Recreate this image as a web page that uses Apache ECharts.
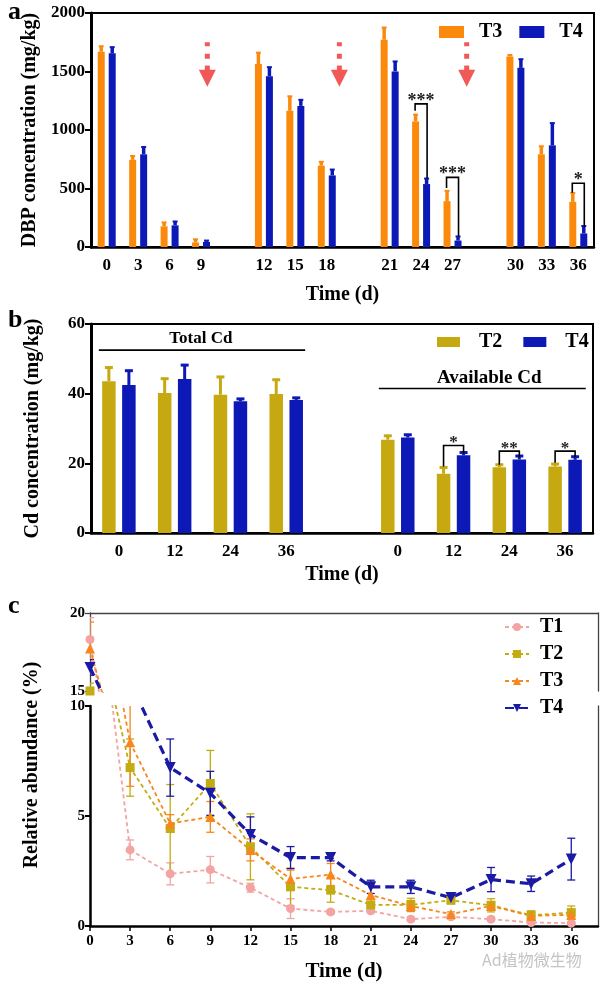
<!DOCTYPE html>
<html>
<head>
<meta charset="utf-8">
<title>DBP / Cd / relative abundance</title>
<script src="https://cdn.jsdelivr.net/npm/echarts@6/dist/echarts.min.js"></script>
<style>
body{margin:0;background:#fff;}
#wrap{position:relative;width:600px;height:987px;}
#div_dbp{position:absolute;left:0;top:0;width:600px;height:310px;}
#div_cd{position:absolute;left:0;top:310px;width:600px;height:280px;}
#div_abund{position:absolute;left:0;top:590px;width:600px;height:397px;}
</style>
</head>
<body>
<div id="wrap">
	<div id="div_dbp"></div>
	<div id="div_cd"></div>
	<div id="div_abund"></div>
</div>
<script>
var FONT = '"Liberation Serif", "Times New Roman", serif';

// ---- a: DBP concentration ----
var dbpDays = ['0','3','6','9','','12','15','18','','21','24','27','','30','33','36'];
var dbpT3   = [1669, 745, 177, 39, 1564, 1164, 695, 1771, 1073, 392, 1628, 792, 386];
var dbpT3Sd = [47, 33, 33, 27, 97, 124, 33, 105, 58, 88, 13, 69, 75];
var dbpT4   = [1655, 792, 185, 44, 1459, 1206, 612, 1501, 538, 55, 1531, 869, 116];
var dbpT4Sd = [53, 63, 33, 11, 78, 52, 50, 85, 47, 35, 74, 190, 63];
// day, left leg end, bracket top, right leg end, stars
var dbpSig = [['24', 1165, 1223, 587, '***'], ['27', 504, 595, 91, '***'], ['36', 463, 545, 174, '*']];
var dbpArrows = [3.2, 7.4, 11.45];   // position on the category axis

// ---- b: Cd concentration ----
var cdDays   = ['0','12','24','36','','0','12','24','36'];
var cdT2     = [43.6, 40.2, 39.7, 39.9, 26.8, 17.0, 18.9, 19.1];
var cdT2Sd   = [3.9, 4.1, 5.1, 4.1, 1.1, 1.8, 0.7, 0.7];
var cdT4     = [42.5, 44.2, 37.8, 38.2, 27.4, 22.3, 21.1, 21.0];
var cdT4Sd   = [4.1, 4.0, 0.7, 0.6, 0.8, 0.8, 1.0, 0.9];
var cdSig    = [[6, 19.1, 25.1, 22.9, '*'], [7, 19.6, 23.5, 21.9, '**'], [8, 20.2, 23.5, 21.8, '*']];
// label, from, to, line value, label position, label value
var cdGroups = [['Total Cd', -0.36, 3.34, 52.5, 1.47, 55.9], ['Available Cd', 4.66, 8.37, 41.5, 6.64, 44.5]];

// ---- c: relative abundance ----
var abDays = [0, 3, 6, 9, 12, 15, 18, 21, 24, 27, 30, 33, 36];
var abT1   = [18.3, 3.46, 2.37, 2.56, 1.74, 0.79, 0.64, 0.69, 0.31, 0.42, 0.31, 0.16, 0.13];
var abT1Sd = [1.4, 0.45, 0.5, 0.6, 0.2, 0.45, 0.1, 0.1, 0.1, 0.1, 0.1, 0.05, 0.05];
var abT2   = [15.0, 7.2, 4.43, 6.48, 3.6, 1.78, 1.63, 0.96, 0.96, 1.17, 0.94, 0.49, 0.61];
var abT2Sd = [0.5, 1.3, 2.0, 1.5, 1.5, 0.85, 0.55, 0.15, 0.3, 0.15, 0.3, 0.2, 0.3];
var abT3   = [17.72, 8.35, 4.66, 4.96, 3.46, 2.14, 2.34, 1.41, 0.91, 0.54, 0.91, 0.46, 0.51];
var abT3Sd = [1.7, 2.0, 0.4, 0.7, 0.5, 0.4, 0.5, 0.5, 0.25, 0.1, 0.2, 0.15, 0.2];
var abT4   = [16.51, 11.1, 7.2, 6.03, 4.16, 3.11, 3.11, 1.78, 1.78, 1.29, 2.11, 1.92, 3.04];
var abT4Sd = [0.5, 0.5, 1.3, 1.0, 0.8, 0.5, 0.15, 0.3, 0.3, 0.2, 0.55, 0.35, 0.95];

var ORANGE = '#fb8a0c', BLUE = '#0c19b6', OLIVE = '#c6a911';

function withGaps(labels, values){
	var out = [], k = 0;
	for (var i = 0; i < labels.length; i++) {
		out.push(labels[i] === '' ? '-' : values[k++]);
	}
	return out;
}
function errData(labels, values, sds){
	var out = [], k = 0;
	for (var i = 0; i < labels.length; i++) {
		if (labels[i] === '') continue;
		out.push([i, values[k], sds[k]]);
		k++;
	}
	return out;
}
function plain(v){ return String(v); }

// upper error bar drawn over a bar, offset from the category centre
function barErr(offset, color, width, cap, capWidth){
	return function(params, api){
		var base = api.coord([api.value(0), api.value(1)]);
		var top = api.coord([api.value(0), api.value(1) + api.value(2)]);
		var x = base[0] + offset;
		return {type:'group', children:[
			{type:'line', shape:{x1:x, y1:base[1], x2:x, y2:top[1]}, style:{stroke:color, lineWidth:width}},
			{type:'line', shape:{x1:x-cap, y1:top[1], x2:x+cap, y2:top[1]}, style:{stroke:color, lineWidth:capWidth}}
		]};
	};
}
function sigBracket(list, off, fontSize){
	return function(params, api){
		var i = api.value(0);
		var pl = api.coord([i, api.value(1)]);
		var pt = api.coord([i, api.value(2)]);
		var pr = api.coord([i, api.value(3)]);
		var xl = pl[0] - off, xr = pl[0] + off;
		return {type:'group', children:[
			{type:'polyline', shape:{points:[[xl, pl[1]], [xl, pt[1]], [xr, pt[1]], [xr, pr[1]]]},
				style:{stroke:'#000', lineWidth:1.6, fill:null}},
			{type:'text', x:(xl + xr) / 2, y:pt[1] - 3,
				style:{text:list[params.dataIndex][4], font:'bold ' + fontSize + 'px ' + FONT,
					fill:'#222', textAlign:'center', textVerticalAlign:'middle'}}
		]};
	};
}

function drawDbp(){
	var sig = dbpSig.map(function(s){ return [dbpDays.indexOf(s[0]), s[1], s[2], s[3]]; });
	var option = {
		animation:false,
		title:{text:'a', left:3, top:-6, textStyle:{fontFamily:FONT, fontSize:26, fontWeight:'bold', color:'#000'}},
		legend:{
			data:['T3','T4'], left:434, top:17, width:200, itemWidth:25, itemHeight:12, itemGap:17,
			icon:'rect',
			textStyle:{fontFamily:FONT, fontSize:20, fontWeight:'bold', color:'#000', padding:[0,0,0,10]}
		},
		grid:{left:91, top:13, width:503, height:241, show:true, borderColor:'#000', borderWidth:2},
		xAxis:{
			type:'category', data:dbpDays,
			axisLine:{lineStyle:{color:'#000', width:2.5}},
			axisTick:{alignWithLabel:true, interval:0, length:6, lineStyle:{width:2, color:'#000'}},
			axisLabel:{interval:0, margin:10, fontFamily:FONT, fontSize:17, fontWeight:'bold', color:'#000'},
			name:'Time (d)', nameLocation:'middle', nameGap:38,
			nameTextStyle:{fontFamily:FONT, fontSize:20, fontWeight:'bold', color:'#000'}
		},
		yAxis:{
			type:'value', min:0, max:2000, interval:500,
			axisLine:{show:true, lineStyle:{color:'#000', width:3}},
			axisTick:{show:true, length:6, lineStyle:{width:2, color:'#000'}},
			axisLabel:{margin:6, formatter:plain, fontFamily:FONT, fontSize:17, fontWeight:'bold', color:'#000'},
			splitLine:{show:false},
			name:'DBP concentration (mg/kg)', nameLocation:'middle', nameGap:48,
			nameTextStyle:{fontFamily:FONT, fontSize:20, fontWeight:'bold', color:'#000'}
		},
		series:[
			{name:'T3', type:'bar', data:withGaps(dbpDays, dbpT3), barWidth:7, barGap:'57%', itemStyle:{color:ORANGE}},
			{name:'T4', type:'bar', data:withGaps(dbpDays, dbpT4), barWidth:7, barGap:'57%', itemStyle:{color:BLUE}},
			{type:'custom', renderItem:barErr(-5.5, ORANGE, 3.5, 2.5, 2), data:errData(dbpDays, dbpT3, dbpT3Sd), z:3},
			{type:'custom', renderItem:barErr(5.5, BLUE, 3.5, 2.5, 2), data:errData(dbpDays, dbpT4, dbpT4Sd), z:3},
			{type:'custom', renderItem:sigBracket(dbpSig, 6, 18), data:sig, z:4},
			{type:'custom', z:4,
				data:dbpArrows.map(function(p){ return [p, 1750]; }),
				renderItem:function(params, api){
					var band = api.size([1, 0])[0];
					var p0 = api.coord([0, api.value(1)]);
					var x = p0[0] + api.value(0) * band, y = p0[1];
					var c = '#f15959';
					return {type:'group', children:[
						{type:'rect', shape:{x:x-2.5, y:y, width:5, height:4}, style:{fill:c}},
						{type:'rect', shape:{x:x-2.5, y:y+11.5, width:5, height:5}, style:{fill:c}},
						{type:'rect', shape:{x:x-2.5, y:y+23.3, width:5, height:4.5}, style:{fill:c}},
						{type:'polygon', shape:{points:[[x-8.5, y+27.5], [x+8.5, y+27.5], [x, y+44.5]]}, style:{fill:c}}
					]};
				}
			}
		]
	};
	var myChart = echarts.init(document.getElementById('div_dbp'));
	myChart.setOption(option);
}

function drawCd(){
	var option = {
		animation:false,
		title:{text:'b', left:3, top:-8, textStyle:{fontFamily:FONT, fontSize:26, fontWeight:'bold', color:'#000'}},
		legend:{
			data:['T2','T4'], left:432, top:17, width:200, itemWidth:23, itemHeight:10, itemGap:21,
			icon:'rect',
			textStyle:{fontFamily:FONT, fontSize:20, fontWeight:'bold', color:'#000', padding:[0,0,0,14]}
		},
		grid:{left:91, top:14, width:502, height:217, show:true, borderColor:'#000', borderWidth:2},
		xAxis:{
			type:'category', data:cdDays,
			axisLine:{lineStyle:{color:'#000', width:2.5}},
			axisTick:{alignWithLabel:true, interval:0, length:6, lineStyle:{width:2, color:'#000'}},
			axisLabel:{interval:0, margin:10, fontFamily:FONT, fontSize:17, fontWeight:'bold', color:'#000'},
			name:'Time (d)', nameLocation:'middle', nameGap:32,
			nameTextStyle:{fontFamily:FONT, fontSize:20, fontWeight:'bold', color:'#000'}
		},
		yAxis:{
			type:'value', min:0, max:60, interval:20,
			axisLine:{show:true, lineStyle:{color:'#000', width:3}},
			axisTick:{show:true, length:6, lineStyle:{width:2, color:'#000'}},
			axisLabel:{margin:6, formatter:plain, fontFamily:FONT, fontSize:17, fontWeight:'bold', color:'#000'},
			splitLine:{show:false},
			name:'Cd concentration (mg/kg)', nameLocation:'middle', nameGap:48,
			nameTextStyle:{fontFamily:FONT, fontSize:20, fontWeight:'bold', color:'#000'}
		},
		series:[
			{name:'T2', type:'bar', data:withGaps(cdDays, cdT2), barWidth:13.5, barGap:'48%', itemStyle:{color:OLIVE}},
			{name:'T4', type:'bar', data:withGaps(cdDays, cdT4), barWidth:13.5, barGap:'48%', itemStyle:{color:BLUE}},
			{type:'custom', renderItem:barErr(-10, OLIVE, 3, 4, 3), data:errData(cdDays, cdT2, cdT2Sd), z:3},
			{type:'custom', renderItem:barErr(10, BLUE, 3, 4, 3), data:errData(cdDays, cdT4, cdT4Sd), z:3},
			{type:'custom', renderItem:sigBracket(cdSig, 10, 17), data:cdSig.map(function(s){ return s.slice(0, 4); }), z:4},
			{type:'custom', z:4,
				data:cdGroups.map(function(g){ return [g[1], g[2], g[3], g[4], g[5]]; }),
				renderItem:function(params, api){
					var band = api.size([1, 0])[0];
					var pl = api.coord([0, api.value(2)]);
					var pt = api.coord([0, api.value(4)]);
					var size = params.dataIndex === 0 ? 17 : 19;
					return {type:'group', children:[
						{type:'line', shape:{x1:pl[0] + api.value(0) * band, y1:pl[1], x2:pl[0] + api.value(1) * band, y2:pl[1]},
							style:{stroke:'#000', lineWidth:1.6}},
						{type:'text', x:pt[0] + api.value(3) * band, y:pt[1],
							style:{text:cdGroups[params.dataIndex][0], font:'bold ' + size + 'px ' + FONT,
								fill:'#000', textAlign:'center', textVerticalAlign:'middle'}}
					]};
				}
			}
		]
	};
	var myChart = echarts.init(document.getElementById('div_cd'));
	myChart.setOption(option);
}

function abLine(name, vals, color, symbol, size, rotate, width, dash, axis){
	return {
		name:name, type:'line', xAxisIndex:axis, yAxisIndex:axis * 2,
		data:abDays.map(function(d, i){ return [d, vals[i]]; }),
		symbol:symbol, symbolSize:size, symbolRotate:rotate, showAllSymbol:true,
		lineStyle:{color:color, width:width, type:dash},
		itemStyle:{color:color}, clip:true, z:3
	};
}
function abErr(vals, sds, color, axis){
	return {
		type:'custom', xAxisIndex:axis, yAxisIndex:axis * 2, clip:true, z:2,
		data:abDays.map(function(d, i){ return [d, vals[i], sds[i]]; }),
		renderItem:function(params, api){
			var x = api.value(0), m = api.value(1), s = api.value(2);
			var hi = api.coord([x, m + s]), lo = api.coord([x, m - s]);
			var w = 4;
			return {type:'group', children:[
				{type:'line', shape:{x1:hi[0], y1:hi[1], x2:lo[0], y2:lo[1]}, style:{stroke:color, lineWidth:1.3}},
				{type:'line', shape:{x1:hi[0]-w, y1:hi[1], x2:hi[0]+w, y2:hi[1]}, style:{stroke:color, lineWidth:1.3}},
				{type:'line', shape:{x1:lo[0]-w, y1:lo[1], x2:lo[0]+w, y2:lo[1]}, style:{stroke:color, lineWidth:1.3}}
			]};
		}
	};
}

function drawAbundance(){
	var labelStyle = {fontFamily:FONT, fontSize:15, fontWeight:'bold', color:'#000'};
	var frame = {show:true, lineStyle:{color:'#444', width:1.3}};
	var treat = [
		['T1', abT1, abT1Sd, '#f4a3a3', 'circle', 9, 0, 1.8, [4, 3]],
		['T2', abT2, abT2Sd, '#c2ac12', 'rect', 9, 0, 1.8, [4, 3]],
		['T3', abT3, abT3Sd, '#f7861c', 'triangle', 10, 0, 1.8, [4, 3]],
		['T4', abT4, abT4Sd, '#1a1aa4', 'triangle', 11, 180, 3.2, [9, 5]]
	];
	var series = [];
	for (var axis = 0; axis < 2; axis++) {
		treat.forEach(function(t){ series.push(abErr(t[1], t[2], t[3], axis)); });
		treat.forEach(function(t){ series.push(abLine(t[0], t[1], t[3], t[4], t[5], t[6], t[7], t[8], axis)); });
	}
	var option = {
		animation:false,
		title:{text:'c', left:3, top:-2, textStyle:{fontFamily:FONT, fontSize:26, fontWeight:'bold', color:'#000'}},
		legend:{
			data:['T1','T2','T3','T4'], orient:'vertical', left:499, top:22,
			itemWidth:24, itemHeight:10, itemGap:7,
			textStyle:{fontFamily:FONT, fontSize:20, fontWeight:'bold', color:'#000', padding:[0,0,0,6]}
		},
		grid:[
			{left:90, top:23, width:508, height:78},
			{left:90, top:116, width:508, height:223}
		],
		xAxis:[
			{type:'value', gridIndex:0, position:'top', min:0, max:38,
				axisLine:frame, axisTick:{show:false}, axisLabel:{show:false}, splitLine:{show:false}},
			{type:'value', gridIndex:1, min:0, max:38,
				axisLine:{lineStyle:{color:'#000', width:2.5}},
				axisTick:{customValues:abDays, length:5, lineStyle:{width:1.5, color:'#000'}},
				axisLabel:{customValues:abDays, margin:8, fontFamily:FONT, fontSize:15, fontWeight:'bold', color:'#000'},
				splitLine:{show:false},
				name:'Time (d)', nameLocation:'middle', nameGap:35,
				nameTextStyle:{fontFamily:FONT, fontSize:21, fontWeight:'bold', color:'#000'}}
		],
		yAxis:[
			{type:'value', gridIndex:0, min:15, max:20, interval:5,
				axisLine:frame, axisTick:{show:true, length:5, lineStyle:{color:'#444', width:1.3}},
				axisLabel:Object.assign({margin:5}, labelStyle), splitLine:{show:false}},
			{type:'value', gridIndex:0, position:'right', min:15, max:20,
				axisLine:frame, axisTick:{show:false}, axisLabel:{show:false}, splitLine:{show:false}},
			{type:'value', gridIndex:1, min:0, max:10, interval:5,
				axisLine:{show:true, lineStyle:{color:'#000', width:2.5}},
				axisTick:{show:true, length:5, lineStyle:{color:'#000', width:2}},
				axisLabel:Object.assign({margin:5}, labelStyle), splitLine:{show:false}},
			{type:'value', gridIndex:1, position:'right', min:0, max:10,
				axisLine:frame, axisTick:{show:false}, axisLabel:{show:false}, splitLine:{show:false}}
		],
		graphic:[
			{type:'text', x:32, y:175, rotation:Math.PI / 2,
				style:{text:'Relative abundance (%)', font:'bold 20px ' + FONT, fill:'#000',
					textAlign:'center', textVerticalAlign:'middle'}},
			{type:'text', x:482, y:370,
				style:{text:'Ad植物微生物', font:'16px "Noto Sans CJK SC"', fill:'#c4c4c4',
					textAlign:'left', textVerticalAlign:'middle'}}
		],
		series:series
	};
	var myChart = echarts.init(document.getElementById('div_abund'));
	myChart.setOption(option);
}

drawDbp();
drawCd();
drawAbundance();
</script>
</body>
</html>
